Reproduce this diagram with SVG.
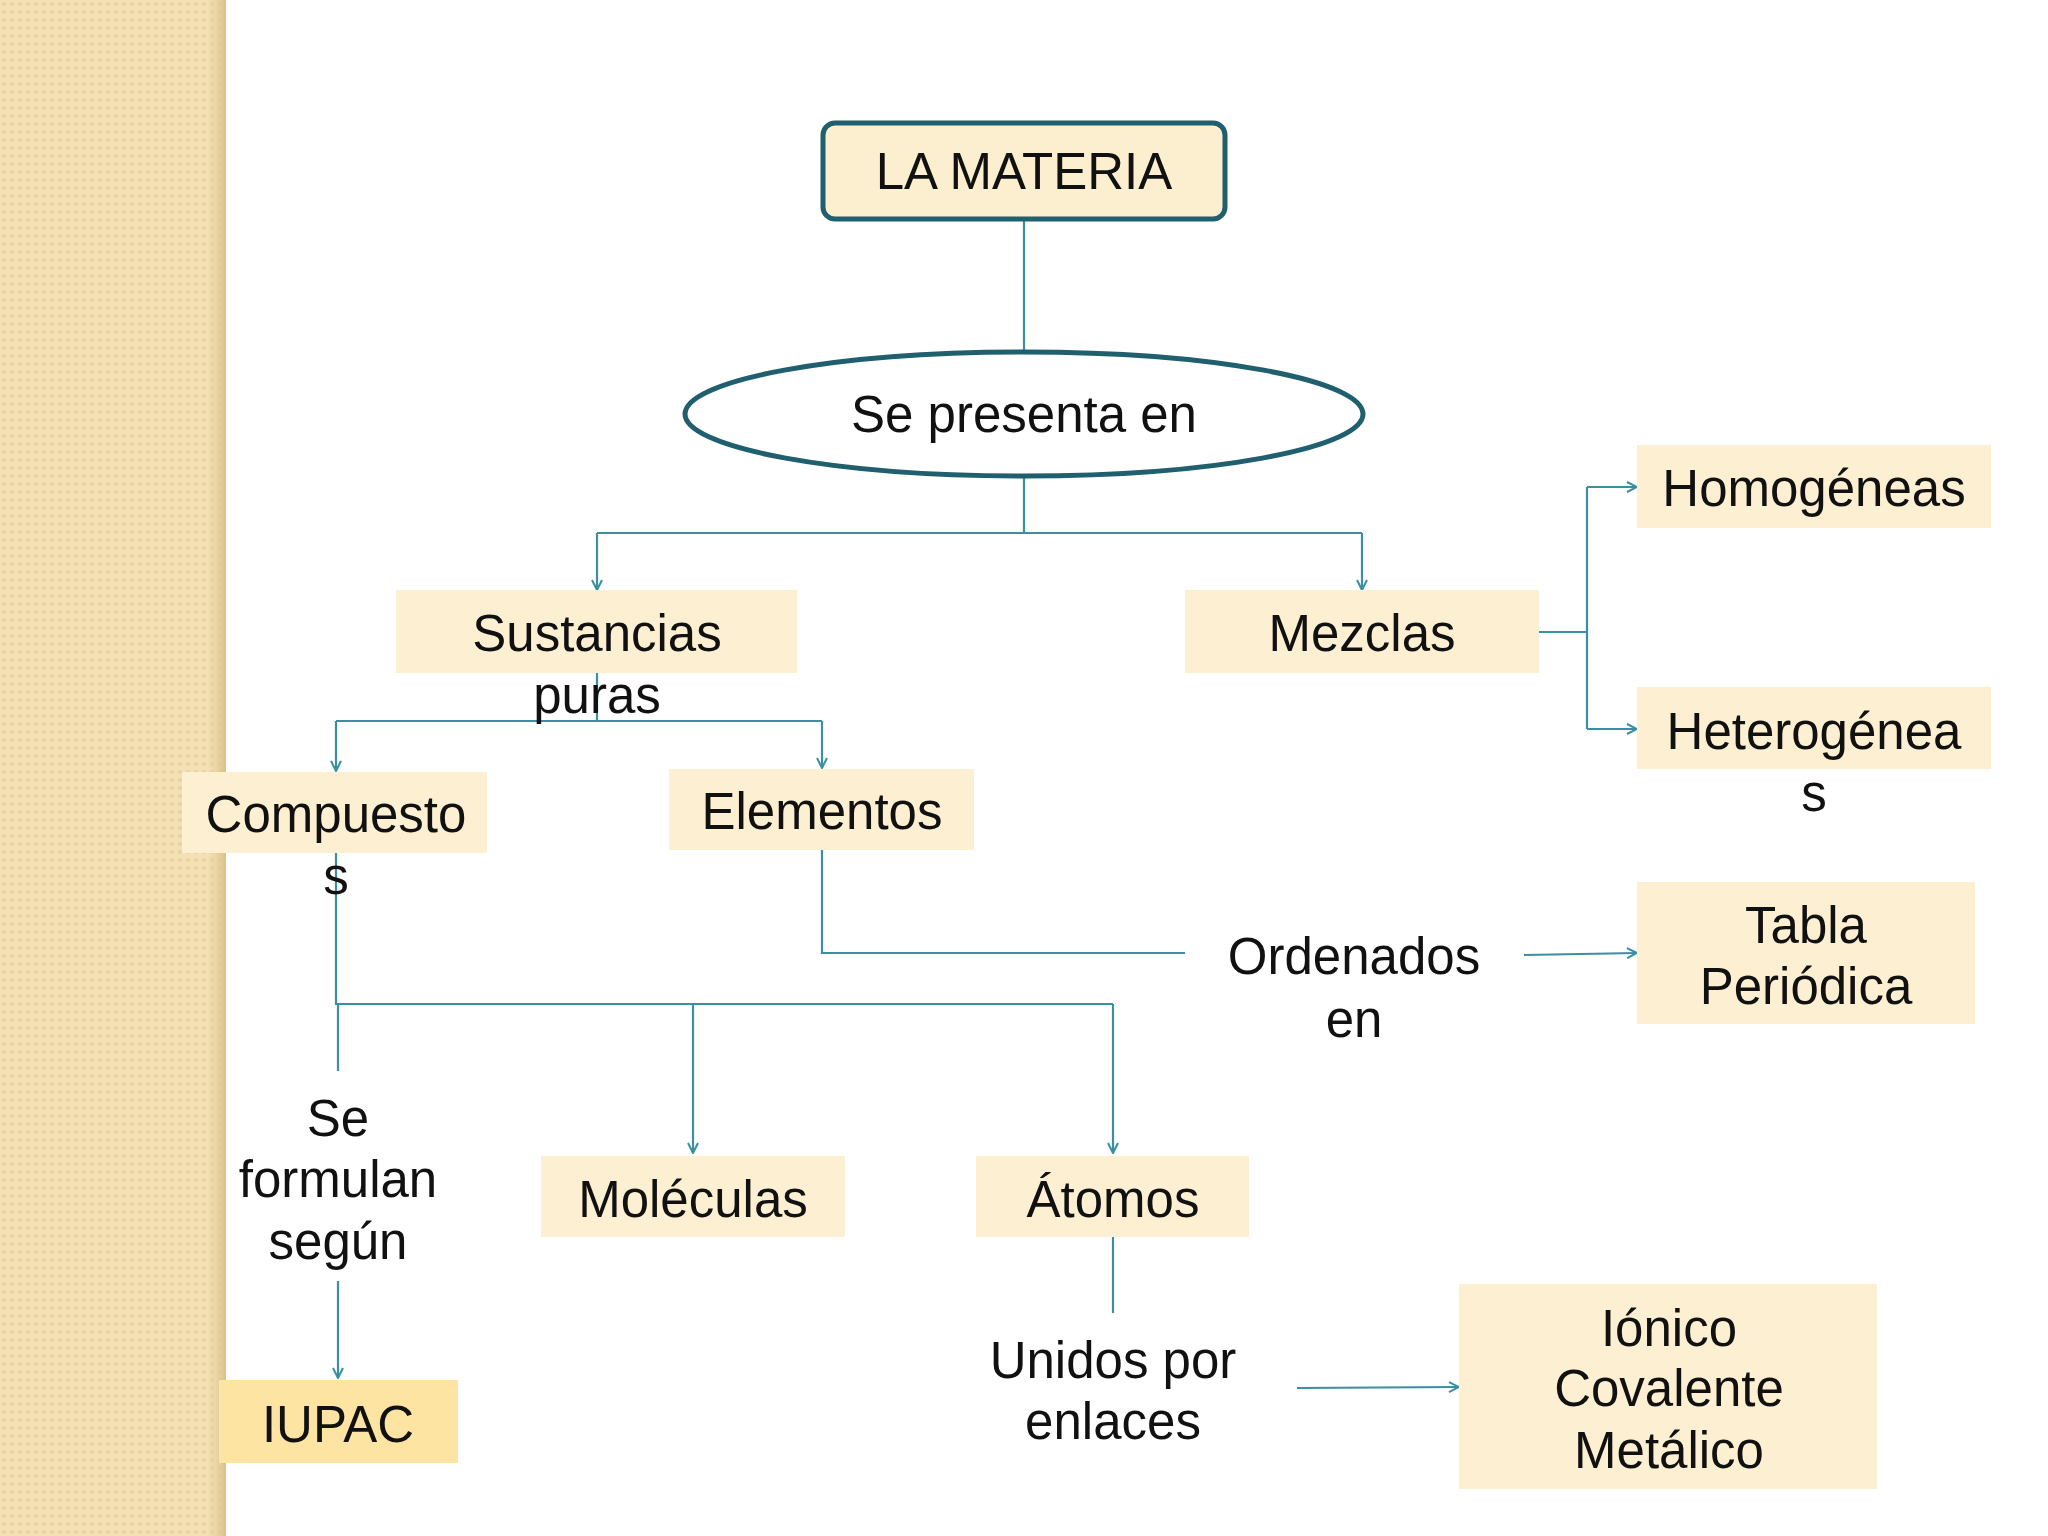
<svg xmlns="http://www.w3.org/2000/svg" width="2048" height="1536" viewBox="0 0 2048 1536">
<defs>
<pattern id="dots" width="8" height="8" patternUnits="userSpaceOnUse"><rect width="8" height="8" fill="#f3e0b4"/><circle cx="4" cy="4" r="2" fill="#ead29c"/></pattern>
<linearGradient id="edge" x1="0" x2="1"><stop offset="0" stop-color="#e9d3a0" stop-opacity="0"/><stop offset="1" stop-color="#d9c08a"/></linearGradient>
<marker id="ar" viewBox="0 0 12 12" refX="11" refY="6" markerWidth="12" markerHeight="12" markerUnits="userSpaceOnUse" orient="auto"><path d="M1,1 L11,6 L1,11" fill="none" stroke="#3a8fa0" stroke-width="2"/></marker>
</defs>
<style>
.b{fill:#fdf0d2}
.t{font-family:"Liberation Sans",Arial,sans-serif;font-size:51px;fill:#111;text-anchor:middle}
.c{fill:none;stroke:#3a8fa0;stroke-width:2.2}
</style>
<rect width="2048" height="1536" fill="#fff"/>
<rect width="226" height="1536" fill="url(#dots)"/>
<rect x="206" width="20" height="1536" fill="url(#edge)"/>
<g id="connectors" class="c">
<path d="M1024,219V350"/>
<path d="M1024,477V533M597,533H1362"/>
<path d="M597,533V590" marker-end="url(#ar)"/>
<path d="M1362,533V590" marker-end="url(#ar)"/>
<path d="M1539,632H1587M1587,487V729"/>
<path d="M1587,487H1637" marker-end="url(#ar)"/>
<path d="M1587,729H1637" marker-end="url(#ar)"/>
<path d="M597,673V721M336,721H822"/>
<path d="M336,721V771" marker-end="url(#ar)"/>
<path d="M822,721V768" marker-end="url(#ar)"/>
<path d="M822,850V953H1185"/>
<path d="M1524,955L1637,953" marker-end="url(#ar)"/>
<path d="M336,853V1004H1113M338,1004V1071"/>
<path d="M693,1004V1153" marker-end="url(#ar)"/>
<path d="M1113,1004V1153" marker-end="url(#ar)"/>
<path d="M338,1281V1378" marker-end="url(#ar)"/>
<path d="M1113,1237V1313"/>
<path d="M1297,1388L1459,1387" marker-end="url(#ar)"/>
</g>
<g id="materia"><rect x="823" y="123" width="402" height="96" rx="12" fill="#fcefcf" stroke="#1f5f6e" stroke-width="5"/><text class="t" x="1024" y="189">LA MATERIA</text></g>
<g id="presenta"><ellipse cx="1024" cy="414" rx="339" ry="62" fill="#fff" stroke="#1f5f6e" stroke-width="5"/><text class="t" x="1024" y="432">Se presenta en</text></g>
<g id="sustancias"><rect class="b" x="396" y="590" width="401" height="83"/><text class="t" x="597" y="651">Sustancias</text><text class="t" x="597" y="713">puras</text></g>
<g id="mezclas"><rect class="b" x="1185" y="590" width="354" height="83"/><text class="t" x="1362" y="651">Mezclas</text></g>
<g id="homogeneas"><rect class="b" x="1637" y="445" width="354" height="83"/><text class="t" x="1814" y="506">Homogéneas</text></g>
<g id="heterogeneas"><rect class="b" x="1637" y="687" width="354" height="82"/><text class="t" x="1814" y="749">Heterogénea</text><text class="t" x="1814" y="811">s</text></g>
<g id="compuestos"><rect class="b" x="182" y="772" width="305" height="81"/><text class="t" x="336" y="832">Compuesto</text><text class="t" x="336" y="894">s</text></g>
<g id="elementos"><rect class="b" x="669" y="769" width="305" height="81"/><text class="t" x="822" y="829">Elementos</text></g>
<g id="ordenados"><text class="t" x="1354" y="974">Ordenados</text><text class="t" x="1354" y="1037">en</text></g>
<g id="tabla"><rect class="b" x="1637" y="882" width="338" height="142"/><text class="t" x="1806" y="943">Tabla</text><text class="t" x="1806" y="1004">Periódica</text></g>
<g id="formulan"><text class="t" x="338" y="1136">Se</text><text class="t" x="338" y="1197">formulan</text><text class="t" x="338" y="1259">según</text></g>
<g id="iupac"><rect x="219" y="1380" width="239" height="83" fill="#fde4a2"/><text class="t" x="338" y="1442">IUPAC</text></g>
<g id="moleculas"><rect class="b" x="541" y="1156" width="304" height="81"/><text class="t" x="693" y="1217">Moléculas</text></g>
<g id="atomos"><rect class="b" x="976" y="1156" width="273" height="81"/><text class="t" x="1113" y="1217">Átomos</text></g>
<g id="unidos"><text class="t" x="1113" y="1378">Unidos por</text><text class="t" x="1113" y="1439">enlaces</text></g>
<g id="enlaces"><rect class="b" x="1459" y="1284" width="418" height="205"/><text class="t" x="1669" y="1346">Iónico</text><text class="t" x="1669" y="1406">Covalente</text><text class="t" x="1669" y="1468">Metálico</text></g>
</svg>
